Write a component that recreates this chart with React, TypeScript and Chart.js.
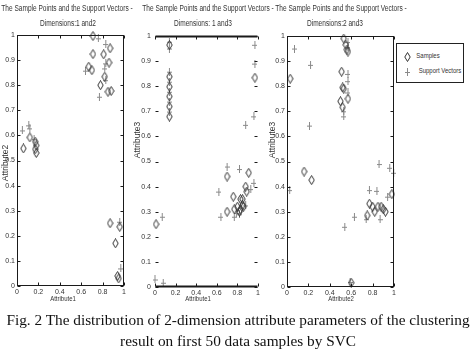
import React, { useEffect, useRef } from 'react';
import { Chart, registerables } from 'chart.js';
Chart.register(...registerables);

// ---------- text ----------
const titleLine1 = 'The Sample Points and the Support Vectors -';
const panelSubtitles = ['Dimensions:1 and2', 'Dimensions: 1 and3', 'Dimensions:2 and3'];
const xAxisTitles = ['Attribute1', 'Attribute1', 'Attribute2'];
const yAxisTitles = ['Attribute2', 'Attribute3', 'Attribute3'];
const seriesNames = ['Samples', 'Support Vectors'];
const captionLines = [
  'Fig. 2 The distribution of 2-dimension attribute parameters of the clustering',
  'result on first 50 data samples by SVC',
];
const xTickLabels = ['0', '0.2', '0.4', '0.6', '0.8', '1'];
const yTickLabels = ['0', '0.1', '0.2', '0.3', '0.4', '0.5', '0.6', '0.7', '0.8', '0.9', '1'];

// ---------- data: panel 1 (Attribute1 vs Attribute2) ----------
const p1SampleX = [0.71, 0.87, 0.71, 0.81, 0.67, 0.70, 0.86, 0.82, 0.78, 0.85, 0.88, 0.06, 0.12, 0.17, 0.18, 0.17, 0.18, 0.87, 0.96, 0.92, 0.94, 0.95];
const p1SampleY = [0.996, 0.947, 0.924, 0.923, 0.874, 0.86, 0.89, 0.834, 0.80, 0.774, 0.777, 0.548, 0.592, 0.575, 0.56, 0.545, 0.53, 0.25, 0.236, 0.17, 0.04, 0.03];
const p1SupportX = [0.76, 0.83, 0.64, 0.83, 0.82, 0.83, 0.77, 0.05, 0.12, 0.11, 0.16, 0.96, 0.97];
const p1SupportY = [0.987, 0.964, 0.858, 0.887, 0.867, 0.82, 0.754, 0.62, 0.628, 0.64, 0.585, 0.256, 0.07];

// ---------- data: panel 2 (Attribute1 vs Attribute3) ----------
const p2SampleX = [0.14, 0.14, 0.14, 0.14, 0.14, 0.14, 0.01, 0.97, 0.70, 0.91, 0.76, 0.88, 0.89, 0.77, 0.80, 0.83, 0.85, 0.86, 0.82, 0.70, 0.83, 0.85];
const p2SampleY = [0.964, 0.838, 0.798, 0.759, 0.719, 0.679, 0.25, 0.834, 0.44, 0.455, 0.36, 0.40, 0.38, 0.31, 0.32, 0.31, 0.325, 0.32, 0.30, 0.30, 0.35, 0.35];
const p2SupportX = [0.14, 0.14, 0.14, 0.14, 0.14, 0.14, 0.14, 0.0, 0.08, 0.07, 0.97, 0.97, 0.96, 0.88, 0.70, 0.82, 0.96, 0.62, 0.93, 0.88, 0.79, 0.64, 0.77, 0.82];
const p2SupportY = [0.977, 0.95, 0.858, 0.818, 0.778, 0.739, 0.699, 0.03, 0.017, 0.28, 0.965, 0.89, 0.68, 0.646, 0.48, 0.47, 0.415, 0.38, 0.39, 0.325, 0.295, 0.28, 0.28, 0.29];

// ---------- data: panel 3 (Attribute2 vs Attribute3) ----------
const p3SampleX = [0.03, 0.16, 0.23, 0.53, 0.55, 0.56, 0.57, 0.51, 0.52, 0.53, 0.57, 0.50, 0.52, 0.60, 0.75, 0.77, 0.80, 0.82, 0.85, 0.88, 0.90, 0.92, 0.98];
const p3SampleY = [0.83, 0.46, 0.426, 0.99, 0.965, 0.946, 0.938, 0.858, 0.795, 0.79, 0.75, 0.74, 0.716, 0.017, 0.285, 0.332, 0.32, 0.30, 0.32, 0.32, 0.31, 0.30, 0.37];
const p3SupportX = [0.07, 0.22, 0.21, 0.025, 0.57, 0.57, 0.57, 0.57, 0.57, 0.53, 0.53, 0.54, 0.63, 0.59, 0.74, 0.77, 0.84, 0.87, 0.86, 0.94, 0.96, 0.997];
const p3SupportY = [0.95, 0.885, 0.643, 0.386, 0.955, 0.976, 0.849, 0.82, 0.775, 0.70, 0.68, 0.24, 0.28, 0.02, 0.27, 0.386, 0.383, 0.27, 0.49, 0.36, 0.475, 0.455];

const panelData = [
  { sx: p1SampleX, sy: p1SampleY, vx: p1SupportX, vy: p1SupportY },
  { sx: p2SampleX, sy: p2SampleY, vx: p2SupportX, vy: p2SupportY },
  { sx: p3SampleX, sy: p3SampleY, vx: p3SupportX, vy: p3SupportY },
];

// ---------- layout ----------
const FONT = '"Liberation Sans", Arial, sans-serif';
const CANVAS_H = 312;
const panelLayout = [
  { left: 0, width: 135, yAxisW: 17, xAxisH: 26, padTop: 35, padRight: 11, yTickPad: 2, frame: 'box', titleCx: 67, subCx: 68, xTitleCx: 63, yTitleCx: 5, yTitleCy: 163 },
  { left: 130, width: 140, yAxisW: 25, xAxisH: 25, padTop: 36, padRight: 12, yTickPad: 4, frame: 'tb', titleCx: 208, subCx: 203, xTitleCx: 198, yTitleCx: 137, yTitleCy: 140 },
  { left: 265, width: 140, yAxisW: 22, xAxisH: 25, padTop: 36, padRight: 11, yTickPad: 2, frame: 'box', titleCx: 341, subCx: 335, xTitleCx: 341, yTitleCx: 272, yTitleCy: 140 },
];

function makeDiamond(): HTMLCanvasElement {
  const c = document.createElement('canvas');
  c.width = 7; c.height = 10;
  const g = c.getContext('2d')!;
  g.strokeStyle = '#333';
  g.lineWidth = 1;
  g.beginPath();
  g.moveTo(3.5, 0.5); g.lineTo(6.2, 5); g.lineTo(3.5, 9.5); g.lineTo(0.8, 5); g.closePath();
  g.stroke();
  return c;
}
function makePlus(): HTMLCanvasElement {
  const c = document.createElement('canvas');
  c.width = 5; c.height = 8;
  const g = c.getContext('2d')!;
  g.strokeStyle = '#8a8a8a';
  g.lineWidth = 1;
  g.beginPath();
  g.moveTo(2.5, 0); g.lineTo(2.5, 8);
  g.moveTo(0, 4.5); g.lineTo(5, 4.5);
  g.stroke();
  return c;
}

const framePlugin = {
  id: 'matlabFrame',
  afterDraw(chart: any, _args: any, opts: any) {
    const { ctx, chartArea: a, scales } = chart;
    const xs = scales.x, ys = scales.y;
    ctx.save();
    ctx.strokeStyle = '#1a1a1a';
    const L = Math.round(a.left) + 0.5, R = Math.round(a.right) - 0.5;
    const T = Math.round(a.top) + 0.5, B = Math.round(a.bottom) - 0.5;
    if (opts.frame === 'box') {
      ctx.lineWidth = 1;
      ctx.strokeRect(L, T, R - L, B - T);
    } else {
      ctx.lineWidth = 2;
      ctx.beginPath();
      ctx.moveTo(L, T); ctx.lineTo(R, T);
      ctx.moveTo(L, B); ctx.lineTo(R, B);
      ctx.stroke();
    }
    ctx.lineWidth = 1;
    ctx.beginPath();
    const tl = 3;
    xs.ticks.forEach((t: any) => {
      const px = Math.round(xs.getPixelForValue(t.value)) + 0.5;
      ctx.moveTo(px, B); ctx.lineTo(px, B - tl);
      ctx.moveTo(px, T); ctx.lineTo(px, T + tl);
    });
    ys.ticks.forEach((t: any) => {
      const py = Math.round(ys.getPixelForValue(t.value)) + 0.5;
      ctx.moveTo(L, py); ctx.lineTo(L + tl, py);
      ctx.moveTo(R, py); ctx.lineTo(R - tl, py);
    });
    ctx.stroke();
    ctx.restore();
  },
};

function Panel({ idx }: { idx: number }) {
  const ref = useRef<HTMLCanvasElement | null>(null);
  const lay = panelLayout[idx];
  useEffect(() => {
    const d = panelData[idx];
    const diamond = makeDiamond();
    const plus = makePlus();
    const tickFont = { family: FONT, size: 7 };
    const chart = new Chart(ref.current!, {
      type: 'scatter',
      data: {
        datasets: [
          {
            label: seriesNames[0],
            data: d.sx.map((x, i) => ({ x, y: d.sy[i] })),
            pointStyle: diamond as any,
            pointRadius: 3,
            borderColor: '#333',
            backgroundColor: 'transparent',
            clip: false as any,
          },
          {
            label: seriesNames[1],
            data: d.vx.map((x, i) => ({ x, y: d.vy[i] })),
            pointStyle: plus as any,
            pointRadius: 3,
            borderColor: '#8a8a8a',
            backgroundColor: 'transparent',
            clip: false as any,
          },
        ],
      },
      options: {
        responsive: false,
        animation: false,
        events: [],
        layout: { padding: { top: lay.padTop, right: lay.padRight, left: 0, bottom: 0 } },
        plugins: {
          legend: { display: false },
          tooltip: { enabled: false },
          matlabFrame: { frame: lay.frame },
        } as any,
        scales: {
          x: {
            type: 'linear',
            min: 0,
            max: 1,
            grid: { display: false, drawTicks: false },
            border: { display: false },
            ticks: {
              stepSize: 0.2,
              font: tickFont,
              color: '#333',
              padding: 2,
              maxRotation: 0,
              autoSkip: false,
              callback: (_v: any, i: number) => xTickLabels[i],
            },
            afterFit: (s: any) => { s.height = lay.xAxisH; },
          },
          y: {
            type: 'linear',
            min: 0,
            max: 1,
            grid: { display: false, drawTicks: false },
            border: { display: false },
            ticks: {
              stepSize: 0.1,
              font: tickFont,
              color: '#333',
              padding: lay.yTickPad,
              autoSkip: false,
              callback: (_v: any, i: number) => yTickLabels[i],
            },
            afterFit: (s: any) => { s.width = lay.yAxisW; },
          },
        },
      } as any,
      plugins: [framePlugin],
    });
    return () => chart.destroy();
  }, [idx]);
  return (
    <canvas
      ref={ref}
      width={lay.width}
      height={CANVAS_H}
      style={{ position: 'absolute', left: lay.left, top: 0, width: lay.width, height: CANVAS_H }}
    />
  );
}

function Txt({ cx, cy, text, size, sx = 1, rot = 0 }: { cx: number; cy: number; text: string; size: number; sx?: number; rot?: number }) {
  return (
    <div
      style={{
        position: 'absolute',
        left: cx,
        top: cy,
        fontFamily: FONT,
        fontSize: size,
        lineHeight: '1',
        color: '#333',
        whiteSpace: 'nowrap',
        transform: `translate(-50%, -50%) rotate(${rot}deg) scaleX(${sx})`,
      }}
    >
      {text}
    </div>
  );
}

export default function App() {
  return (
    <div style={{ position: 'absolute', left: 0, top: 0, width: 474, height: 351, background: '#fff', overflow: 'hidden' }}>
      {panelLayout.map((_, i) => (
        <Panel key={i} idx={i} />
      ))}
      {panelLayout.map((lay, i) => (
        <React.Fragment key={'t' + i}>
          <Txt cx={lay.titleCx} cy={8} text={titleLine1} size={8.5} sx={0.77} />
          <Txt cx={lay.subCx} cy={23} text={panelSubtitles[i]} size={8.5} sx={0.77} />
          <Txt cx={lay.xTitleCx} cy={299} text={xAxisTitles[i]} size={8} sx={0.75} />
          <Txt cx={lay.yTitleCx} cy={lay.yTitleCy} text={yAxisTitles[i]} size={8.5} rot={-90} />
        </React.Fragment>
      ))}
      <div style={{ position: 'absolute', left: 396, top: 43, width: 66, height: 38, border: '1px solid #222', background: '#fff' }}>
        <svg width="7" height="10" style={{ position: 'absolute', left: 7, top: 8 }}>
          <polygon points="3.5,0.5 6.2,5 3.5,9.5 0.8,5" fill="none" stroke="#333" strokeWidth="1" />
        </svg>
        <svg width="5" height="8" style={{ position: 'absolute', left: 8, top: 24 }}>
          <path d="M2.5 0 V8 M0 4.5 H5" stroke="#8a8a8a" strokeWidth="1" />
        </svg>
      </div>
      <Txt cx={428} cy={56} text={seriesNames[0]} size={7.5} sx={0.8} />
      <Txt cx={440} cy={71} text={seriesNames[1]} size={7.5} sx={0.8} />
      {captionLines.map((line, i) => (
        <div
          key={'c' + i}
          style={{
            position: 'absolute',
            left: 238,
            top: 311 + i * 21,
            transform: 'translateX(-50%)',
            fontFamily: '"Liberation Serif", "Times New Roman", serif',
            fontSize: 15.3,
            lineHeight: '18px',
            color: '#111',
            whiteSpace: 'nowrap',
          }}
        >
          {line}
        </div>
      ))}
    </div>
  );
}
